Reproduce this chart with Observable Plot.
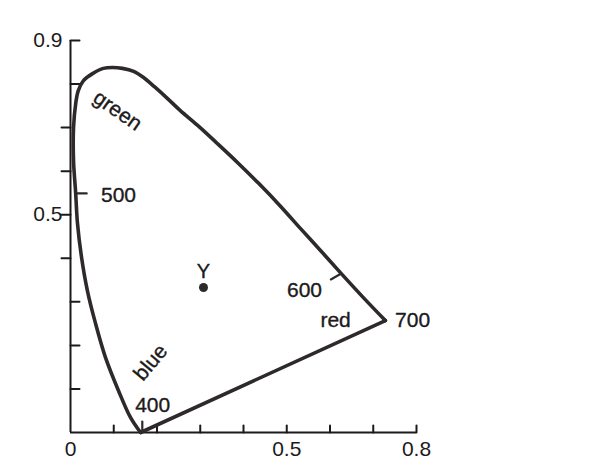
<!DOCTYPE html>
<html><head><meta charset="utf-8">
<script src="https://cdn.jsdelivr.net/npm/d3@7"></script>
<script src="https://cdn.jsdelivr.net/npm/@observablehq/plot@0.6"></script>
<style>html,body{margin:0;padding:0;background:#fff}</style>
</head><body><div id="chart"></div>
<script>
// Spectral locus (chromaticity x, y), from 400 nm round to 700 nm
const locusX = [0.162,0.139,0.111,0.081,0.058,0.039,0.025,0.016,0.012,0.007,0.007,0.012,0.018,0.030,0.051,0.076,0.097,0.120,0.146,0.169,0.194,0.222,0.254,0.294,0.340,0.386,0.435,0.486,0.532,0.578,0.624,0.675,0.728];
const locusY = [0.000,0.034,0.096,0.172,0.250,0.326,0.406,0.482,0.549,0.624,0.700,0.755,0.785,0.808,0.824,0.836,0.838,0.836,0.829,0.815,0.794,0.769,0.739,0.705,0.663,0.620,0.572,0.519,0.468,0.418,0.367,0.312,0.257];

// axis ticks
const xTicks = [0.1,0.2,0.3,0.4,0.5,0.6,0.7,0.8];
const xTickLabels = [0, 0.5, 0.8];
const yTicksOut = [0.4,0.5,0.6,0.7];
const yTicksIn = [0.1,0.2,0.3,0.8,0.9];
const yTickLabels = [0.5, 0.9];

// wavelength marks on the locus
const waveTickNm = [400, 500, 600];
const waveTickX = [0.166, 0.012, 0.624];
const waveTickY = [0.000, 0.549, 0.364];
const waveTickDir = [0, 90, 240];
const waveLabelNm = ["400", "500", "600", "700"];
const waveLabelX = [0.190, 0.111, 0.541, 0.791];
const waveLabelY = [0.062, 0.544, 0.326, 0.257];

// colour region names
const regionNames = ["green", "blue", "red"];
const regionX = [0.109, 0.185, 0.613];
const regionY = [0.739, 0.161, 0.257];
const regionAngle = [35, -50, 0];

// white point
const whiteName = ["Y"];
const whiteX = [0.3075];
const whiteY = [0.333];

const ink = "#1c1a1b";
const curveInk = "#2e2a2b";
const stub = {draw(ctx, l) { ctx.moveTo(0, 0); ctx.lineTo(0, -l); }};
const idx = (a) => a.map((_, i) => i);
const locus = idx(locusX).map(i => ({x: locusX[i], y: locusY[i]}));
const purple = [locus[locus.length - 1], locus[0]];
const textStyle = {fontSize: 21, fill: ink, stroke: ink, strokeWidth: 0.35};

const chart = Plot.plot({
  width: 612, height: 469,
  marginLeft: 70, marginRight: 196, marginTop: 40, marginBottom: 37,
  x: {domain: [0, 0.8]},
  y: {domain: [0, 0.9]},
  style: {fontFamily: "'Liberation Sans', Arial, sans-serif", fontSize: "21px", color: ink, background: "#fff"},
  marks: [
    Plot.ruleX([0], {stroke: ink, strokeWidth: 2}),
    Plot.ruleY([0], {stroke: ink, strokeWidth: 2}),
    Plot.vector(xTicks, {x: d => d, y: 0, length: 7, rotate: 0, anchor: "start", shape: stub, stroke: ink, strokeWidth: 2}),
    Plot.vector(yTicksOut, {x: 0, y: d => d, length: 9, rotate: 270, anchor: "start", shape: stub, stroke: ink, strokeWidth: 2}),
    Plot.vector(yTicksIn, {x: 0, y: d => d, length: 9, rotate: 90, anchor: "start", shape: stub, stroke: ink, strokeWidth: 2}),
    Plot.axisX({ticks: xTickLabels, tickSize: 0, tickPadding: 9, label: null, tickFormat: d => `${d}`, ...textStyle}),
    Plot.axisY({ticks: yTickLabels, tickSize: 0, tickPadding: 8, label: null, tickFormat: d => `${d}`, ...textStyle}),
    Plot.line(locus, {x: "x", y: "y", curve: "catmull-rom", stroke: curveInk, strokeWidth: 3.6, strokeLinejoin: "round"}),
    Plot.line(purple, {x: "x", y: "y", stroke: curveInk, strokeWidth: 3.6}),
    Plot.vector(idx(waveTickNm), {x: i => waveTickX[i], y: i => waveTickY[i], rotate: i => waveTickDir[i], length: 11, anchor: "start", shape: stub, stroke: curveInk, strokeWidth: 2.2}),
    Plot.text(idx(waveLabelNm), {x: i => waveLabelX[i], y: i => waveLabelY[i], text: i => waveLabelNm[i], ...textStyle}),
    Plot.text(idx(regionNames), {x: i => regionX[i], y: i => regionY[i], text: i => regionNames[i], rotate: i => regionAngle[i], ...textStyle}),
    Plot.dot(idx(whiteName), {x: i => whiteX[i], y: i => whiteY[i], r: 4.5, fill: curveInk}),
    Plot.text(idx(whiteName), {x: i => whiteX[i], y: i => whiteY[i], text: i => whiteName[i], dy: -16, ...textStyle, fontSize: 20})
  ]
});
document.getElementById("chart").appendChild(chart);
</script>
</body></html>
